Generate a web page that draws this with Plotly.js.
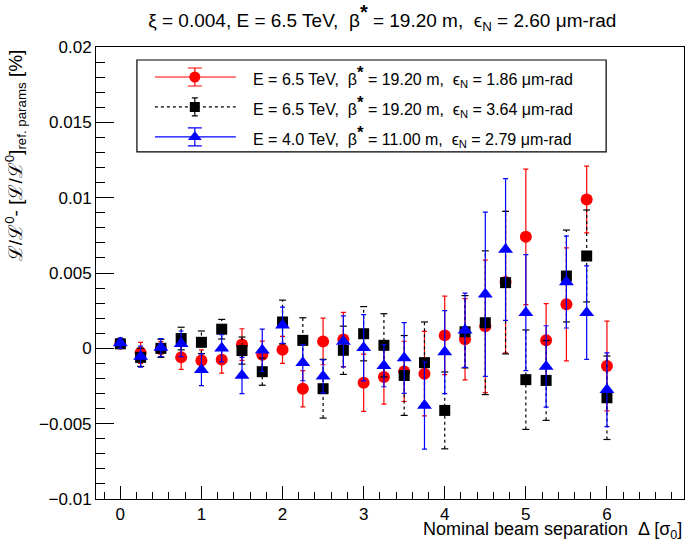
<!DOCTYPE html>
<html>
<head>
<meta charset="utf-8">
<script src="https://cdn.plot.ly/plotly-3.0.1.min.js"></script>
<style>
  body { margin: 0; background: #fff; }
  #plot { width: 685px; height: 541px; }
</style>
</head>
<body>
<div id="plot"></div>
<script>
// nominal separation, in units of sigma_0
const sep = [0, 0.25, 0.5, 0.75, 1, 1.25, 1.5, 1.75, 2, 2.25, 2.5, 2.75, 3,
             3.25, 3.5, 3.75, 4, 4.25, 4.5, 4.75, 5, 5.25, 5.5, 5.75, 6]

// E = 6.5 TeV, beta* = 19.20 m, eps = 1.86
const redY = [0.0003, -0.0003, -0.00005, -0.0006, -0.0008, -0.00075, 0.00025, -0.00042, -0.0001,
              -0.00268, 0.00046, 0.00058, -0.00228, -0.0019, -0.00153, -0.00168, 0.00086,
              0.0006, 0.00146, 0.0044, 0.0074, 0.00053, 0.00292, 0.00988, -0.00117]
const redErr = [0.0003, 0.0007, 0.0005, 0.0008, 0.0007, 0.0009, 0.00105, 0.0009, 0.0009,
                0.0012, 0.00155, 0.0018, 0.0019, 0.0018, 0.002, 0.0028, 0.0026,
                0.0027, 0.0044, 0.0047, 0.0045, 0.00244, 0.00375, 0.00222, 0.00298]

// E = 6.5 TeV, beta* = 19.20 m, eps = 3.64
const blackY = [0.0003, -0.0006, 0, 0.00065, 0.0004, 0.00127, -0.00015, -0.00155, 0.00175,
                0.00053, -0.00268, -0.00013, 0.00097, 0.0002, -0.0018, -0.00095, -0.00412,
                0.0011, 0.0017, 0.00436, -0.00208, -0.00213, 0.0048, 0.00613, -0.00328]
const blackErr = [0.0003, 0.0006, 0.0006, 0.00075, 0.00075, 0.00065, 0.0009, 0.0009, 0.00145,
                  0.0015, 0.00195, 0.0016, 0.0018, 0.0021, 0.00265, 0.0027, 0.00255,
                  0.0024, 0.00477, 0.00473, 0.0033, 0.00265, 0.00305, 0.00305, 0.00277]

// E = 4.0 TeV, beta* = 11.00 m, eps = 2.79
const blueY = [0.00035, -0.00055, 0.00005, 0.0003, -0.00142, 0, -0.0018, -0.00013, 0.00153,
               -0.00095, -0.00186, 0.00046, 0.00004, -0.00115, -0.00064, -0.00379, -0.00025,
               0.0012, 0.00359, 0.00656, 0.00237, -0.0012, 0.0044, 0.00237, -0.00275]
const blueErr = [0.00035, 0.0007, 0.0006, 0.00085, 0.00105, 0.0009, 0.0012, 0.0014, 0.0012,
                 0.0012, 0.0011, 0.0017, 0.0022, 0.0014, 0.00235, 0.0029, 0.00275,
                 0.00247, 0.00545, 0.0047, 0.00385, 0.0027, 0.00305, 0.0031, 0.00245]

const sp = '\u00a0'
const star = '<sup><span style="font-size:1.5em"><b>*</b></span></sup>'
const legendNames = [
  'E = 6.5 TeV,' + sp + sp + 'β' + star + ' = 19.20 m,' + sp + sp + 'ϵ<sub>N</sub> = 1.86 μm-rad',
  'E = 6.5 TeV,' + sp + sp + 'β' + star + ' = 19.20 m,' + sp + sp + 'ϵ<sub>N</sub> = 3.64 μm-rad',
  'E = 4.0 TeV,' + sp + sp + 'β' + star + ' = 11.00 m,' + sp + sp + 'ϵ<sub>N</sub> = 2.79 μm-rad',
]
const colors = ['#ff0000', '#000000', '#0000ff']
const symbols = ['circle', 'square', 'triangle-up']

function errBars(err, color) {
  return {type: 'data', array: err, visible: true, color, thickness: 1.2, width: 2.5}
}

// dashed error bars for the black series (error_y can't be dashed)
let dashX = [], dashY = []
for (let i = 0; i < sep.length; i++) {
  dashX.push(sep[i], sep[i], null)
  dashY.push(blackY[i] - blackErr[i], blackY[i] + blackErr[i], null)
}

let traces = [
  {
    x: sep, y: redY, mode: 'markers', type: 'scatter',
    marker: {symbol: 'circle', size: 12, color: colors[0]},
    error_y: errBars(redErr, colors[0]),
  },
  {
    x: dashX, y: dashY, mode: 'lines+markers', type: 'scatter',
    line: {color: '#000', width: 1.2, dash: '3px,3px'},
    marker: {symbol: 'line-ew-open', size: 5, color: '#000', line: {width: 1.2, color: '#000'}},
  },
  {
    x: sep, y: blackY, mode: 'markers', type: 'scatter',
    marker: {symbol: 'square', size: 11, color: '#000'},
  },
  {
    x: sep, y: blueY, mode: 'markers', type: 'scatter',
    marker: {symbol: 'triangle-up', size: 13, color: colors[2]},
    error_y: errBars(blueErr, colors[2]),
  },
]

// legend box drawn on a hidden overlay axis, units ~ pixels inside the box
const rowY = [17, 47, 77]
const sizes = [11, 10, 12]
let legendAnn = []
for (let k = 0; k < 3; k++) {
  traces.push({
    x: [18, 99], y: [rowY[k], rowY[k]], xaxis: 'x2', yaxis: 'y2', mode: 'lines',
    line: {color: colors[k], width: 1.2, dash: k === 1 ? '3px,3px' : 'solid'},
  })
  traces.push({
    x: [58], y: [rowY[k]], xaxis: 'x2', yaxis: 'y2', mode: 'markers',
    marker: {symbol: symbols[k], size: sizes[k], color: colors[k]},
    error_y: {type: 'data', array: [9], visible: true, color: colors[k], thickness: 1.2, width: k === 1 ? 3 : 7},
  })
  legendAnn.push({
    xref: 'x2', yref: 'y2', x: 114, y: rowY[k], xanchor: 'left', yanchor: 'middle',
    showarrow: false, text: legendNames[k],
    font: {family: 'Liberation Sans, Arial, sans-serif', size: 16, color: '#000'},
  })
}

const font = 'Liberation Sans, Arial, sans-serif'

const layout = {
  width: 685, height: 541,
  margin: {l: 96, r: 1, t: 47, b: 42},
  paper_bgcolor: '#fff', plot_bgcolor: '#fff',
  font: {family: font, size: 16, color: '#000'},
  showlegend: false,
  title: {
    text: 'ξ = 0.004, E = 6.5 TeV,' + sp + sp + 'β' + star + ' = 19.20 m,' + sp + sp + 'ϵ<sub>N</sub> = 2.60 μm-rad',
    font: {family: font, size: 19, color: '#000'},
    x: 0.558, xanchor: 'center', y: 0.962, yanchor: 'middle',
  },
  xaxis: {
    range: [-0.3, 6.95],
    showgrid: false, zeroline: false,
    showline: true, linecolor: '#000', linewidth: 1, mirror: true,
    ticks: 'inside', ticklen: 13, tickcolor: '#000', tickwidth: 1,
    dtick: 1, tick0: 0,
    minor: {ticks: 'inside', ticklen: 7, dtick: 0.2, tick0: 0, tickcolor: '#000', showgrid: false},
    tickfont: {size: 17},
  },
  yaxis: {
    range: [-0.01, 0.02],
    showgrid: false, zeroline: false,
    showline: true, linecolor: '#000', linewidth: 1, mirror: true,
    ticks: 'inside', ticklen: 18, tickcolor: '#000', tickwidth: 1,
    dtick: 0.005, tick0: 0,
    minor: {ticks: 'inside', ticklen: 9, dtick: 0.001, tick0: 0, tickcolor: '#000', showgrid: false},
    tickfont: {size: 17},
  },
  xaxis2: {
    domain: [0.0696, 0.8676], range: [0, 470], anchor: 'y2', visible: false, fixedrange: true,
  },
  yaxis2: {
    domain: [0.768, 0.9712], range: [92, 0], anchor: 'x2', visible: false, fixedrange: true,
  },
  shapes: [
    {
      type: 'rect', xref: 'x2 domain', yref: 'y2 domain', x0: 0, x1: 1, y0: 0, y1: 1,
      line: {color: '#000', width: 1.2}, fillcolor: 'rgba(0,0,0,0)',
    },
  ],
  annotations: [
    {
      xref: 'paper', yref: 'paper', x: -0.1375, y: 1.0, xanchor: 'center', yanchor: 'top',
      textangle: -90, showarrow: false,
      text: 'ℒ/ℒ<sup>0</sup>- [ℒ/ℒ<sup>0</sup>]<sub>ref. params</sub> [%]',
      font: {family: font, size: 19, color: '#000'},
    },
    {
      xref: 'paper', yref: 'paper', x: 1.0, y: -0.069, xanchor: 'right', yanchor: 'middle',
      showarrow: false,
      text: 'Nominal beam separation' + sp + sp + 'Δ [σ<sub>0</sub>]',
      font: {family: font, size: 18, color: '#000'},
    },
  ].concat(legendAnn),
}

Plotly.newPlot('plot', traces, layout, {displayModeBar: false, staticPlot: true})
</script>
</body>
</html>
